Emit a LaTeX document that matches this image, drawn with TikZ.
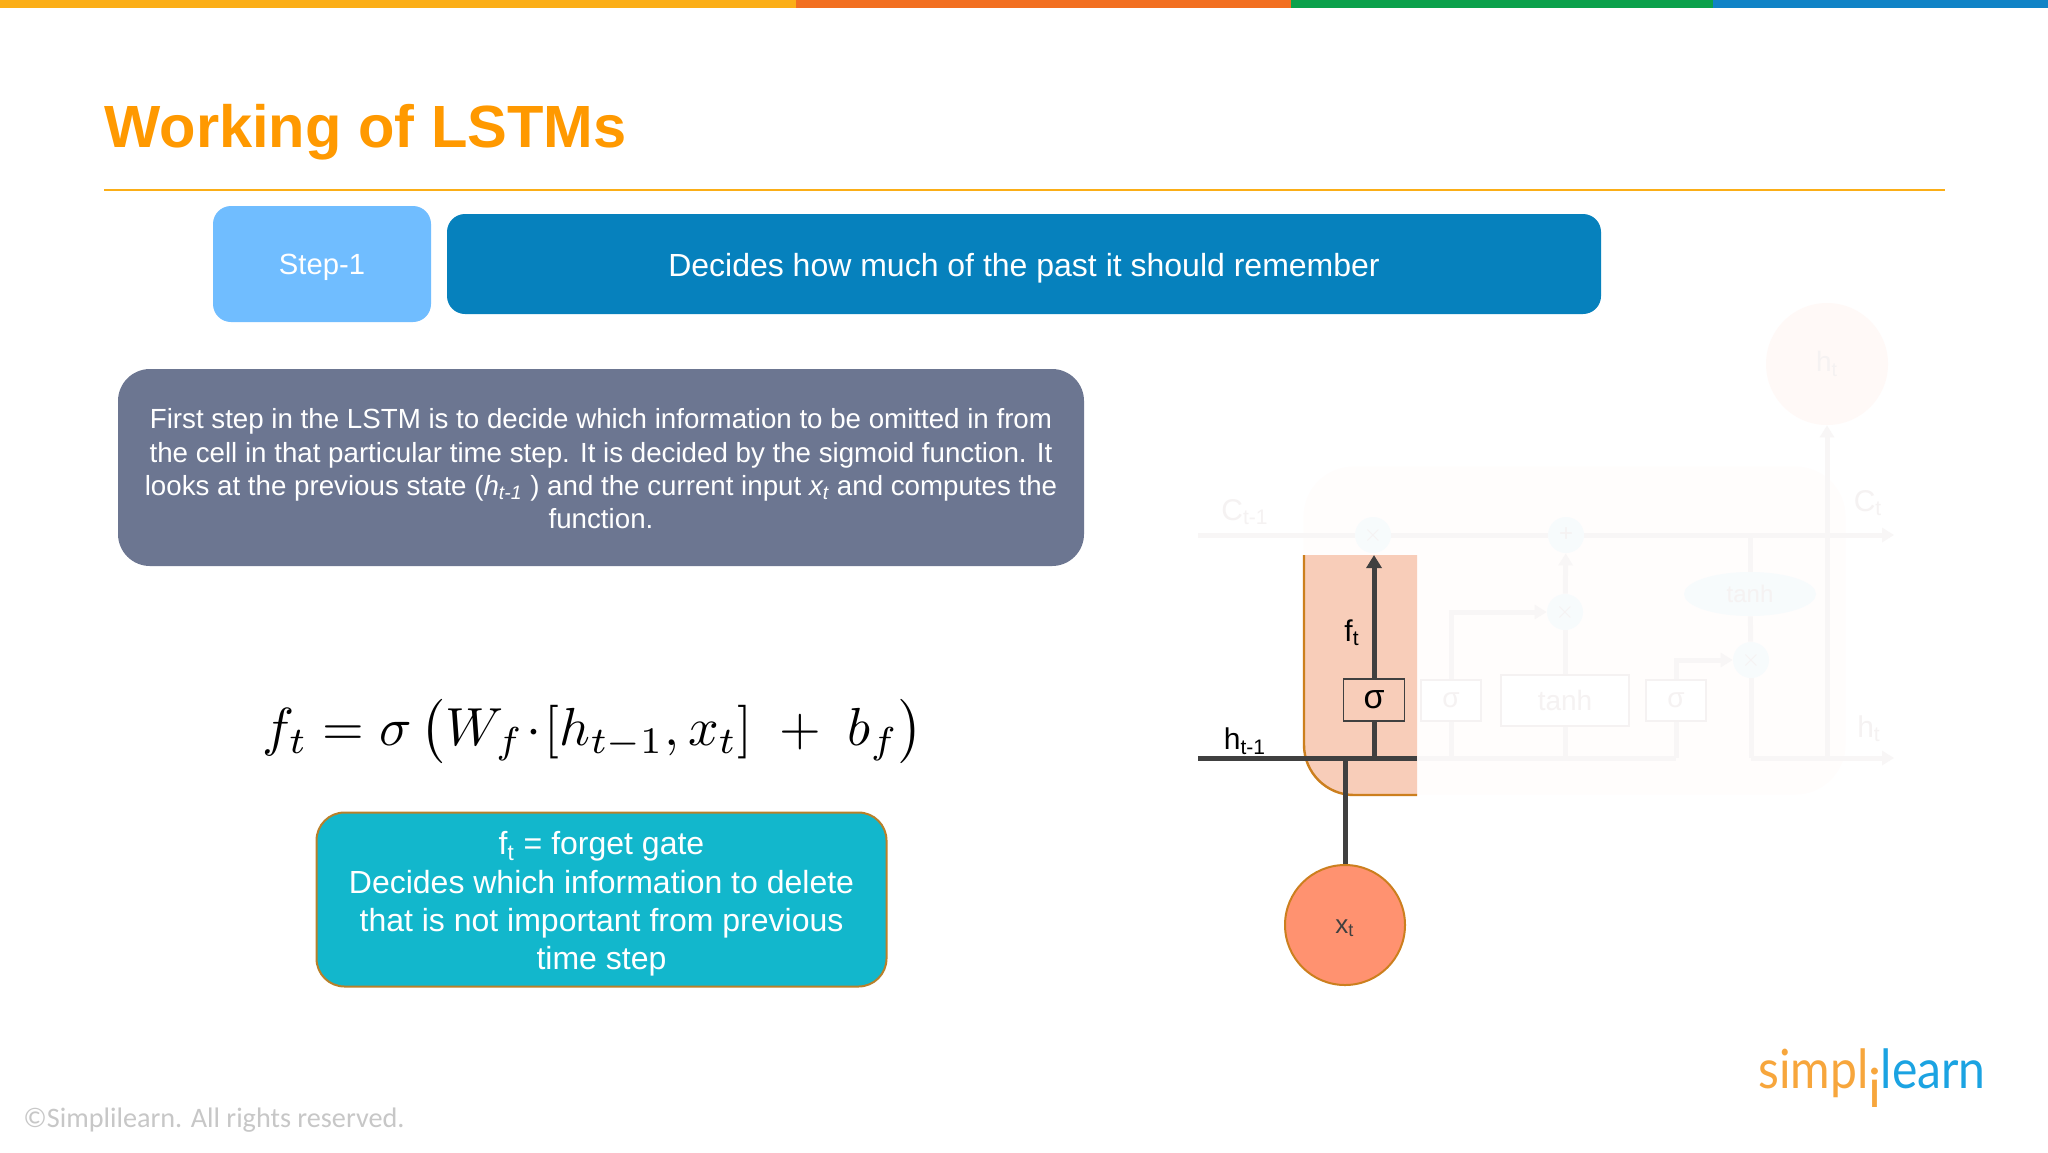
\documentclass[tikz,border=0pt]{standalone}
\usepackage{fontspec}
\setmainfont{Liberation Sans}
\newfontfamily\logofont{Lato}
\newfontfamily\notefont{Carlito}
\usetikzlibrary{arrows.meta,shapes.geometric}
\definecolor{barYellow}{HTML}{FBAE17}
\definecolor{barOrange}{HTML}{F26F21}
\definecolor{barGreen}{HTML}{0BA14B}
\definecolor{barBlue}{HTML}{1083C6}
\definecolor{titleOrange}{HTML}{FF9900}
\definecolor{stepBlue}{HTML}{70BDFF}
\definecolor{headBlue}{HTML}{0681BD}
\definecolor{slateBox}{HTML}{6C7691}
\definecolor{tealBox}{HTML}{12B7CC}
\definecolor{edgeBrown}{HTML}{B8802A}
\definecolor{cellPeach}{HTML}{F8CDB9}
\definecolor{cellEdge}{HTML}{CC7F1E}
\definecolor{inputRed}{HTML}{FF9270}
\definecolor{darkLine}{HTML}{404040}
\definecolor{fadeLine}{HTML}{F8F6F6}
\definecolor{fadeCell}{HTML}{FFFDFC}
\definecolor{fadeText}{HTML}{F5F2F2}
\definecolor{fadeBlue}{HTML}{F7FBFC}
\definecolor{fadeRed}{HTML}{FFF9F7}
\definecolor{logoOrange}{HTML}{F7A63C}
\definecolor{logoBlue}{HTML}{1BA3E2}
\tikzset{
  boxtext/.style={text=white, align=center, inner sep=0pt},
  fadebox/.style={draw=fadeText, line width=1pt, fill=white, text=fadeText, inner sep=0pt, font=\fontsize{14}{16}\selectfont},
  fadeop/.style={circle, fill=fadeBlue, text=fadeText, inner sep=0pt, minimum size=36pt/2, font=\fontsize{12}{14}\selectfont},
  fadewire/.style={draw=fadeLine, line width=2.5pt},
  fadetip/.style={fadewire, -{Triangle[width=7pt,length=6pt]}},
  fadelabel/.style={text=fadeText, inner sep=0pt, font=\fontsize{15}{17}\selectfont},
  darkwire/.style={draw=darkLine, line width=2.5pt},
  darklabel/.style={inner sep=0pt, font=\fontsize{15}{17}\selectfont},
  logotext/.style={inner sep=0pt, font=\logofont\fontsize{27}{30}\selectfont},
}
\begin{document}
\begin{tikzpicture}[x=0.5pt, y=-0.5pt]
  \path[use as bounding box, fill=white] (0,0) rectangle (2048,1152);
  % top stripes
  \fill[barYellow] (0,0) rectangle (796,8);
  \fill[barOrange] (796,0) rectangle (1291,8);
  \fill[barGreen] (1291,0) rectangle (1713,8);
  \fill[barBlue] (1713,0) rectangle (2048,8);

  % heading
  \node[anchor=base west, inner sep=0pt, text=titleOrange, font=\fontsize{29.8}{34}\selectfont\bfseries] (title) at (104,147) {Working of LSTMs};
  \draw[barYellow, line width=1pt] (104,190) -- (1945,190);

  % step banner
  \fill[stepBlue, rounded corners=9pt] (213,206) rectangle (431,322);
  \node[boxtext, font=\fontsize{14.6}{18}\selectfont] (stepone) at (322,267) {Step-1};
  \fill[headBlue, rounded corners=9pt] (447,214) rectangle (1601,314);
  \node[boxtext, font=\fontsize{16}{20}\selectfont] (stephead) at (1024,268) {Decides how much of the past it should remember};

  % explanation
  \fill[slateBox, rounded corners=16pt] (118,369) rectangle (1084,566);
  \node[boxtext, font=\fontsize{13.85}{16.65}\selectfont] (explain) at (601,469) {First step in the LSTM is to decide which information to be omitted in from\\the cell in that particular time step. It is decided by the sigmoid function. It\\looks at the previous state (\textit{h\textsubscript{t-1}} ) and the current input \textit{x\textsubscript{t}} and computes the\\function.};

  % formula
  \node[inner sep=0pt, scale=2.68] (formula) at (593,732) {$f_t=\sigma\,\bigl(W_f\!\cdot\![h_{t-1},x_t]\;+\;b_f\bigr)$};

  % forget gate note
  \filldraw[draw=edgeBrown, line width=1pt, fill=tealBox, rounded corners=14pt] (316.5,812.5) rectangle (886.5,986.5);
  \node[boxtext, font=\fontsize{16}{19.15}\selectfont] (gatenote) at (601.5,904) {f\textsubscript{t} = forget gate\\Decides which information to delete\\that is not important from previous\\time step};

  % faded cell
  \draw[fadeCell, fill=fadeCell, rounded corners=25pt] (1304,467) rectangle (1845,794);
  \node[circle, fill=fadeRed, text=fadeText, minimum size=61pt, inner sep=0pt, font=\fontsize{14}{16}\selectfont] (hout) at (1827,364) {h\textsubscript{t}};
  \node[fadelabel] (cprev) at (1245,512) {C\textsubscript{t-1}};
  \node[fadelabel] (cnext) at (1868,503) {C\textsubscript{t}};
  \node[fadelabel] (hnext) at (1869,729) {h\textsubscript{t}};
  \coordinate (cleft) at (1198,535);
  \coordinate (cright) at (1894,535);
  \coordinate (hright) at (1894,758);
  \coordinate (hstart) at (1751,758);
  \coordinate (hturn) at (1827,758);
  \node[fadeop] (opforget) at (1373,535) {$\times$};
  \node[fadeop] (opadd) at (1566,535) {+};
  \node[fadeop] (opmix) at (1565,612) {$\times$};
  \node[fadeop] (opout) at (1751,660) {$\times$};
  \node[fadebox, minimum width=30pt, minimum height=20.5pt] (sigmatwo) at (1451,700) {σ};
  \node[fadebox, minimum width=64pt, minimum height=25.5pt] (tanhbox) at (1565,700) {tanh};
  \node[fadebox, minimum width=30pt, minimum height=20.5pt] (sigmathree) at (1676,700) {σ};
  \node[ellipse, fill=fadeBlue, text=fadeText, minimum width=66pt, minimum height=22pt, inner sep=0pt, font=\fontsize{12}{14}\selectfont] (tanhoval) at (1750,594) {tanh};
  \coordinate (joinsigma) at (1451,758);
  \coordinate (jointanh) at (1565,758);
  \coordinate (joinend) at (1676,758);
  \coordinate (hcut) at (1417,758);
  \coordinate (bendtwo) at (1451,612);
  \coordinate (bendthree) at (1676,660);
  \coordinate (ctan) at (1750,535);

  \draw[fadewire] (cleft) -- (opforget);
  \draw[fadewire] (opforget) -- (opadd);
  \draw[fadetip] (opadd) -- (cright);
  \draw[fadewire] (hcut) -- (joinend);
  \draw[fadewire] (joinsigma) -- (sigmatwo);
  \draw[fadewire] (jointanh) -- (tanhbox);
  \draw[fadewire] (joinend) -- (sigmathree);
  \draw[fadetip] (sigmatwo) -- (bendtwo) -- (opmix);
  \draw[fadewire] (tanhbox) -- (opmix);
  \draw[fadetip] (opmix) -- (opadd);
  \draw[fadetip] (sigmathree) -- (bendthree) -- (opout);
  \draw[fadewire] (opout) -- (tanhoval);
  \draw[fadewire] (tanhoval) -- (ctan);
  \draw[fadewire] (opout) -- (hstart);
  \draw[fadetip] (hstart) -- (hright);
  \draw[fadetip] (hturn) -- (hout);

  % forget part of the cell
  \fill[cellPeach] (1304,555) [rounded corners=25pt] -- (1304,795) [sharp corners] -- (1417,795) -- (1417,555) -- cycle;
  \draw[cellEdge, line width=1.2pt] (1304,555) [rounded corners=25pt] -- (1304,795) [sharp corners] -- (1417,795);
  \coordinate (hprev) at (1198,758);
  \coordinate (stemtop) at (1345,758);
  \coordinate (sigmafoot) at (1374,758);
  \coordinate (arrowtop) at (1374,555);
  \node[draw=darkLine, line width=0.8pt, fill=cellPeach, minimum width=30.5pt, minimum height=21pt, inner sep=0pt, font=\fontsize{17}{20}\selectfont] (sigmaone) at (1374,700) {σ};
  \node[circle, draw=cellEdge, line width=1pt, fill=inputRed, minimum size=60pt, inner sep=0pt, text=black!75, font=\fontsize{13}{16}\selectfont] (xinput) at (1345,925) {\raisebox{-1.5pt}[\height][\depth]{x\textsubscript{t}}};
  \draw[darkwire] (hprev) -- (hcut);
  \draw[darkwire] (stemtop) -- (xinput);
  \draw[darkwire] (sigmafoot) -- (sigmaone);
  \draw[darkwire, -{Triangle[width=7.5pt,length=6.5pt]}] (sigmaone) -- (arrowtop);
  \node[darklabel] (hlabel) at (1245,741) {h\textsubscript{t-1}};
  \node[darklabel] (flabel) at (1352,633) {f\textsubscript{t}};

  % footer
  \node[anchor=base west, inner sep=0pt, text=black!22, font=\notefont\fontsize{14.1}{16}\selectfont] (rights) at (23,1127) {©Simplilearn. All rights reserved.};
  \node[logotext, anchor=base west, text=logoOrange, xscale=0.89] (logoa) at (1758,1088) {simpl};
  \node[logotext, anchor=base, text=logoOrange] (logob) at (1875,1107) {i};
  \node[logotext, anchor=base east, text=logoBlue, xscale=0.89] (logoc) at (1986,1088) {learn};
\end{tikzpicture}
\end{document}
